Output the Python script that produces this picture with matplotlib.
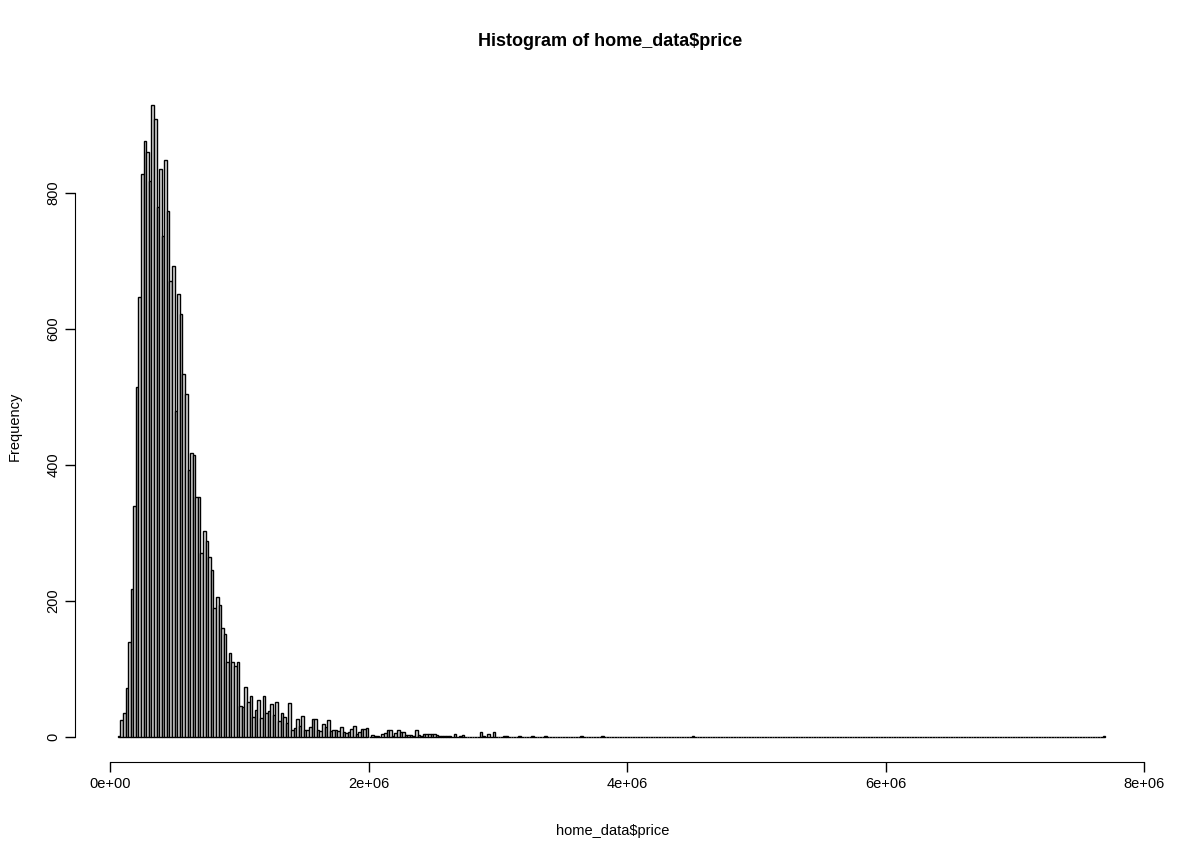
import numpy as np
import matplotlib
matplotlib.use("Agg")
import matplotlib.pyplot as plt

plt.rcParams["font.family"] = ["Liberation Sans", "DejaVu Sans"]

# histogram of prices: bins of 20,000 starting at 60,000
bin_start = 60000
bin_width = 20000
n_bins = 382
head_counts = [
    2, 25, 35, 72, 140, 217, 340, 515, 647, 828, 877, 861, 817, 930, 909, 780,
    835, 737, 849, 774, 670, 692, 480, 652, 622, 534, 505, 393, 418, 414, 353,
    353, 270, 303, 288, 265, 246, 189, 206, 194, 161, 152, 110, 124, 110, 105,
    110,
    46, 44, 73, 51, 60, 29, 39, 54, 28, 60, 35, 38, 48, 33, 51, 24, 35, 29, 21,
    50, 11, 13, 26, 16, 31, 11, 11, 14, 26, 26, 11, 9, 19, 15, 25, 9, 11, 11, 9,
    15, 7, 6, 7, 12, 16, 4, 7, 12, 12, 13, 0, 3, 1, 1, 0, 4, 6,
    10, 10, 2, 6, 10, 8, 8, 3, 3, 3, 1, 10, 3, 1, 5, 4, 5, 4, 4, 3, 2, 1, 1, 1,
    2, 0, 4, 0, 1, 3,
]
tail_bins = [140, 141, 143, 145, 149, 150, 155, 160, 165, 179, 187, 222, 381]
tail_counts = [7, 2, 4, 7, 2, 2, 2, 2, 2, 2, 1, 2, 1]

counts = np.zeros(n_bins)
counts[:len(head_counts)] = head_counts
counts[tail_bins] = tail_counts
edges = bin_start + bin_width * np.arange(n_bins)

W, H = 1184, 861
fig = plt.figure(figsize=(W / 100, H / 100), dpi=100)
left, right, top, bottom = 75, 1150, 90, 762
ax = fig.add_axes([left / W, 1 - bottom / H, (right - left) / W, (bottom - top) / H])

ax.bar(edges, counts, width=bin_width, align="edge", facecolor="#dcdcdc",
       edgecolor="black", linewidth=1.0)

sx = 1034 / 8e6
ax.set_xlim(-(110 - left) / sx, (right - 110) / sx)
sy = 0.68
ax.set_ylim(-(bottom - 737) / sy, (737 - top) / sy)

for s in ("top", "right"):
    ax.spines[s].set_visible(False)
ax.spines["left"].set_bounds(0, 800)
ax.spines["bottom"].set_bounds(0, 8e6)
ax.set_xticks([0, 2e6, 4e6, 6e6, 8e6])
ax.set_xticklabels(["0e+00", "2e+06", "4e+06", "6e+06", "8e+06"])
ax.set_yticks([0, 200, 400, 600, 800])
ax.set_yticklabels(["0", "200", "400", "600", "800"], rotation=90, va="center")
ax.tick_params(length=7, labelsize=10.5, width=1)
ax.set_xlabel("home_data$price", fontsize=10.5, labelpad=24)
ax.set_ylabel("Frequency", fontsize=10.5, labelpad=18)
fig.text(610 / W, 1 - 41 / H, "Histogram of home_data$price", ha="center",
         va="center", fontsize=13, fontweight="bold")

fig.savefig("out.png", dpi=100)
